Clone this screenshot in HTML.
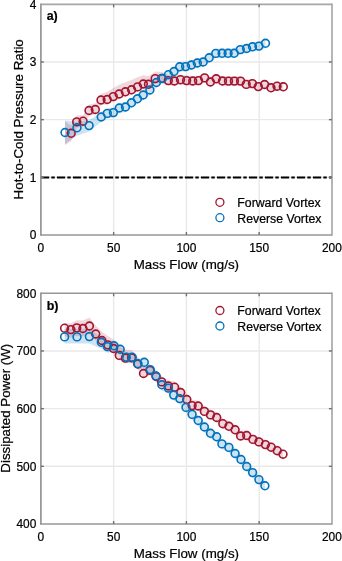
<!DOCTYPE html><html><head><meta charset="utf-8"><style>html,body{margin:0;padding:0;background:#fff;width:342px;height:561px;overflow:hidden}svg{display:block;will-change:transform}</style></head><body><svg width="342" height="561" viewBox="0 0 342 561">
<rect width="342" height="561" fill="#fff"/>
<line x1="113.65" y1="4.35" x2="113.65" y2="234.95" stroke="#e9e9e9" stroke-width="1.4"/>
<line x1="186.40" y1="4.35" x2="186.40" y2="234.95" stroke="#e9e9e9" stroke-width="1.4"/>
<line x1="259.15" y1="4.35" x2="259.15" y2="234.95" stroke="#e9e9e9" stroke-width="1.4"/>
<line x1="40.9" y1="177.30" x2="331.9" y2="177.30" stroke="#e9e9e9" stroke-width="1.4"/>
<line x1="40.9" y1="119.65" x2="331.9" y2="119.65" stroke="#e9e9e9" stroke-width="1.4"/>
<line x1="40.9" y1="62.00" x2="331.9" y2="62.00" stroke="#e9e9e9" stroke-width="1.4"/>
<polygon points="65.0,120.5 77.0,121.8 89.1,120.3 101.2,112.0 107.3,108.4 113.4,107.6 119.3,103.1 125.5,102.1 131.5,97.9 137.4,93.9 143.2,90.1 149.9,85.1 156.4,77.6 162.3,73.7 168.4,69.9 174.0,66.7 179.7,62.0 185.6,61.8 191.4,60.2 197.3,58.2 203.2,57.3 209.2,53.1 215.8,48.7 222.1,48.6 228.1,48.6 234.2,48.6 240.3,45.0 246.6,43.9 252.5,42.2 258.9,41.5 265.5,38.7 265.5,47.9 258.9,50.7 252.5,51.4 246.6,53.1 240.3,54.2 234.2,58.0 228.1,58.0 222.1,58.0 215.8,58.1 209.2,62.5 203.2,66.7 197.3,67.8 191.4,69.8 185.6,71.4 179.7,71.6 174.0,76.3 168.4,79.5 162.3,83.3 156.4,87.4 149.9,94.9 143.2,99.9 137.4,103.7 131.5,107.7 125.5,111.9 119.3,112.9 113.4,117.6 107.3,118.4 101.2,122.0 89.1,131.6 77.0,135.8 65.0,144.0" fill="#0072bd" fill-opacity="0.2"/>
<polygon points="65.0,121.3 71.2,125.7 76.7,115.5 83.1,115.2 89.0,104.5 95.3,103.5 101.0,93.8 107.2,92.1 113.3,87.9 119.1,84.8 125.4,82.3 131.6,80.0 137.6,77.3 143.3,75.2 148.5,76.3 155.2,71.6 161.8,72.1 168.3,74.9 174.4,75.9 180.5,74.7 186.6,75.6 192.7,76.1 198.5,75.7 204.6,73.0 210.4,77.1 216.2,74.0 222.5,76.2 228.5,76.3 234.4,76.3 240.6,76.4 246.2,79.7 252.4,78.9 258.3,81.9 264.6,79.9 271.0,83.2 277.0,81.6 283.3,82.2 283.3,91.3 277.0,90.8 271.0,92.4 264.6,89.1 258.3,91.2 252.4,88.2 246.2,89.0 240.6,85.7 234.4,85.8 228.5,85.8 222.5,85.7 216.2,83.5 210.4,86.7 204.6,82.6 198.5,85.4 192.7,85.8 186.6,85.4 180.5,84.5 174.4,85.8 168.3,85.4 161.8,83.2 155.2,83.5 148.5,89.2 143.3,88.9 137.6,91.8 131.6,94.7 125.4,96.7 119.1,99.0 113.3,101.6 107.2,104.5 101.0,105.0 95.3,114.5 89.0,115.5 83.1,126.2 76.7,127.7 71.2,140.9 65.0,145.3" fill="#a2142f" fill-opacity="0.17"/>
<line x1="40.9" y1="177.60" x2="331.9" y2="177.60" stroke="#000" stroke-width="2" stroke-dasharray="8.3 2.1 3.5 2.1"/>
<circle cx="71.2" cy="133.3" r="3.9" fill="none" stroke="#a2142f" stroke-width="1.6"/>
<circle cx="76.7" cy="121.9" r="3.9" fill="none" stroke="#a2142f" stroke-width="1.6"/>
<circle cx="83.1" cy="121.2" r="3.9" fill="none" stroke="#a2142f" stroke-width="1.6"/>
<circle cx="89.0" cy="110.5" r="3.9" fill="none" stroke="#a2142f" stroke-width="1.6"/>
<circle cx="95.3" cy="109.5" r="3.9" fill="none" stroke="#a2142f" stroke-width="1.6"/>
<circle cx="101.0" cy="100.0" r="3.9" fill="none" stroke="#a2142f" stroke-width="1.6"/>
<circle cx="107.2" cy="99.5" r="3.9" fill="none" stroke="#a2142f" stroke-width="1.6"/>
<circle cx="113.3" cy="96.6" r="3.9" fill="none" stroke="#a2142f" stroke-width="1.6"/>
<circle cx="119.1" cy="94.0" r="3.9" fill="none" stroke="#a2142f" stroke-width="1.6"/>
<circle cx="125.4" cy="91.8" r="3.9" fill="none" stroke="#a2142f" stroke-width="1.6"/>
<circle cx="131.6" cy="89.8" r="3.9" fill="none" stroke="#a2142f" stroke-width="1.6"/>
<circle cx="137.6" cy="86.9" r="3.9" fill="none" stroke="#a2142f" stroke-width="1.6"/>
<circle cx="143.3" cy="84.0" r="3.9" fill="none" stroke="#a2142f" stroke-width="1.6"/>
<circle cx="148.5" cy="84.3" r="3.9" fill="none" stroke="#a2142f" stroke-width="1.6"/>
<circle cx="155.2" cy="78.6" r="3.9" fill="none" stroke="#a2142f" stroke-width="1.6"/>
<circle cx="161.8" cy="78.4" r="3.9" fill="none" stroke="#a2142f" stroke-width="1.6"/>
<circle cx="168.3" cy="80.6" r="3.9" fill="none" stroke="#a2142f" stroke-width="1.6"/>
<circle cx="174.4" cy="81.0" r="3.9" fill="none" stroke="#a2142f" stroke-width="1.6"/>
<circle cx="180.5" cy="79.7" r="3.9" fill="none" stroke="#a2142f" stroke-width="1.6"/>
<circle cx="186.6" cy="80.6" r="3.9" fill="none" stroke="#a2142f" stroke-width="1.6"/>
<circle cx="192.7" cy="81.0" r="3.9" fill="none" stroke="#a2142f" stroke-width="1.6"/>
<circle cx="198.5" cy="80.6" r="3.9" fill="none" stroke="#a2142f" stroke-width="1.6"/>
<circle cx="204.6" cy="77.9" r="3.9" fill="none" stroke="#a2142f" stroke-width="1.6"/>
<circle cx="210.4" cy="82.0" r="3.9" fill="none" stroke="#a2142f" stroke-width="1.6"/>
<circle cx="216.2" cy="78.8" r="3.9" fill="none" stroke="#a2142f" stroke-width="1.6"/>
<circle cx="222.5" cy="81.0" r="3.9" fill="none" stroke="#a2142f" stroke-width="1.6"/>
<circle cx="228.5" cy="81.1" r="3.9" fill="none" stroke="#a2142f" stroke-width="1.6"/>
<circle cx="234.4" cy="81.1" r="3.9" fill="none" stroke="#a2142f" stroke-width="1.6"/>
<circle cx="240.6" cy="81.1" r="3.9" fill="none" stroke="#a2142f" stroke-width="1.6"/>
<circle cx="246.2" cy="84.4" r="3.9" fill="none" stroke="#a2142f" stroke-width="1.6"/>
<circle cx="252.4" cy="83.6" r="3.9" fill="none" stroke="#a2142f" stroke-width="1.6"/>
<circle cx="258.3" cy="86.6" r="3.9" fill="none" stroke="#a2142f" stroke-width="1.6"/>
<circle cx="264.6" cy="84.5" r="3.9" fill="none" stroke="#a2142f" stroke-width="1.6"/>
<circle cx="271.0" cy="87.8" r="3.9" fill="none" stroke="#a2142f" stroke-width="1.6"/>
<circle cx="277.0" cy="86.2" r="3.9" fill="none" stroke="#a2142f" stroke-width="1.6"/>
<circle cx="283.3" cy="86.8" r="3.9" fill="none" stroke="#a2142f" stroke-width="1.6"/>
<circle cx="65.0" cy="132.5" r="3.9" fill="none" stroke="#0072bd" stroke-width="1.6"/>
<circle cx="77.0" cy="127.8" r="3.9" fill="none" stroke="#0072bd" stroke-width="1.6"/>
<circle cx="89.1" cy="125.6" r="3.9" fill="none" stroke="#0072bd" stroke-width="1.6"/>
<circle cx="101.2" cy="117.0" r="3.9" fill="none" stroke="#0072bd" stroke-width="1.6"/>
<circle cx="107.3" cy="113.4" r="3.9" fill="none" stroke="#0072bd" stroke-width="1.6"/>
<circle cx="113.4" cy="112.6" r="3.9" fill="none" stroke="#0072bd" stroke-width="1.6"/>
<circle cx="119.3" cy="108.0" r="3.9" fill="none" stroke="#0072bd" stroke-width="1.6"/>
<circle cx="125.5" cy="107.0" r="3.9" fill="none" stroke="#0072bd" stroke-width="1.6"/>
<circle cx="131.5" cy="102.8" r="3.9" fill="none" stroke="#0072bd" stroke-width="1.6"/>
<circle cx="137.4" cy="98.8" r="3.9" fill="none" stroke="#0072bd" stroke-width="1.6"/>
<circle cx="143.2" cy="95.0" r="3.9" fill="none" stroke="#0072bd" stroke-width="1.6"/>
<circle cx="149.9" cy="90.0" r="3.9" fill="none" stroke="#0072bd" stroke-width="1.6"/>
<circle cx="156.4" cy="82.5" r="3.9" fill="none" stroke="#0072bd" stroke-width="1.6"/>
<circle cx="162.3" cy="78.5" r="3.9" fill="none" stroke="#0072bd" stroke-width="1.6"/>
<circle cx="168.4" cy="74.7" r="3.9" fill="none" stroke="#0072bd" stroke-width="1.6"/>
<circle cx="174.0" cy="71.5" r="3.9" fill="none" stroke="#0072bd" stroke-width="1.6"/>
<circle cx="179.7" cy="66.8" r="3.9" fill="none" stroke="#0072bd" stroke-width="1.6"/>
<circle cx="185.6" cy="66.6" r="3.9" fill="none" stroke="#0072bd" stroke-width="1.6"/>
<circle cx="191.4" cy="65.0" r="3.9" fill="none" stroke="#0072bd" stroke-width="1.6"/>
<circle cx="197.3" cy="63.0" r="3.9" fill="none" stroke="#0072bd" stroke-width="1.6"/>
<circle cx="203.2" cy="62.0" r="3.9" fill="none" stroke="#0072bd" stroke-width="1.6"/>
<circle cx="209.2" cy="57.8" r="3.9" fill="none" stroke="#0072bd" stroke-width="1.6"/>
<circle cx="215.8" cy="53.4" r="3.9" fill="none" stroke="#0072bd" stroke-width="1.6"/>
<circle cx="222.1" cy="53.3" r="3.9" fill="none" stroke="#0072bd" stroke-width="1.6"/>
<circle cx="228.1" cy="53.3" r="3.9" fill="none" stroke="#0072bd" stroke-width="1.6"/>
<circle cx="234.2" cy="53.3" r="3.9" fill="none" stroke="#0072bd" stroke-width="1.6"/>
<circle cx="240.3" cy="49.6" r="3.9" fill="none" stroke="#0072bd" stroke-width="1.6"/>
<circle cx="246.6" cy="48.5" r="3.9" fill="none" stroke="#0072bd" stroke-width="1.6"/>
<circle cx="252.5" cy="46.8" r="3.9" fill="none" stroke="#0072bd" stroke-width="1.6"/>
<circle cx="258.9" cy="46.1" r="3.9" fill="none" stroke="#0072bd" stroke-width="1.6"/>
<circle cx="265.5" cy="43.3" r="3.9" fill="none" stroke="#0072bd" stroke-width="1.6"/>
<line x1="40.9" y1="3.55" x2="40.9" y2="235.75" stroke="#8e8e8e" stroke-width="1.6"/>
<line x1="332.0" y1="3.55" x2="332.0" y2="235.75" stroke="#8e8e8e" stroke-width="1.3"/>
<line x1="40.9" y1="4.35" x2="331.9" y2="4.35" stroke="#a6a6a6" stroke-width="1.6"/>
<line x1="40.9" y1="234.95" x2="331.9" y2="234.95" stroke="#979797" stroke-width="1.6"/>
<line x1="113.65" y1="234.95" x2="113.65" y2="231.95" stroke="#707070" stroke-width="1.4"/>
<line x1="113.65" y1="4.35" x2="113.65" y2="7.35" stroke="#707070" stroke-width="1.4"/>
<line x1="186.40" y1="234.95" x2="186.40" y2="231.95" stroke="#707070" stroke-width="1.4"/>
<line x1="186.40" y1="4.35" x2="186.40" y2="7.35" stroke="#707070" stroke-width="1.4"/>
<line x1="259.15" y1="234.95" x2="259.15" y2="231.95" stroke="#707070" stroke-width="1.4"/>
<line x1="259.15" y1="4.35" x2="259.15" y2="7.35" stroke="#707070" stroke-width="1.4"/>
<line x1="40.9" y1="177.30" x2="43.9" y2="177.30" stroke="#707070" stroke-width="1.4"/>
<line x1="331.9" y1="177.30" x2="328.9" y2="177.30" stroke="#707070" stroke-width="1.4"/>
<line x1="40.9" y1="119.65" x2="43.9" y2="119.65" stroke="#707070" stroke-width="1.4"/>
<line x1="331.9" y1="119.65" x2="328.9" y2="119.65" stroke="#707070" stroke-width="1.4"/>
<line x1="40.9" y1="62.00" x2="43.9" y2="62.00" stroke="#707070" stroke-width="1.4"/>
<line x1="331.9" y1="62.00" x2="328.9" y2="62.00" stroke="#707070" stroke-width="1.4"/>
<line x1="113.65" y1="293.3" x2="113.65" y2="524.0" stroke="#e9e9e9" stroke-width="1.4"/>
<line x1="186.40" y1="293.3" x2="186.40" y2="524.0" stroke="#e9e9e9" stroke-width="1.4"/>
<line x1="259.15" y1="293.3" x2="259.15" y2="524.0" stroke="#e9e9e9" stroke-width="1.4"/>
<line x1="40.9" y1="466.32" x2="331.9" y2="466.32" stroke="#e9e9e9" stroke-width="1.4"/>
<line x1="40.9" y1="408.65" x2="331.9" y2="408.65" stroke="#e9e9e9" stroke-width="1.4"/>
<line x1="40.9" y1="350.98" x2="331.9" y2="350.98" stroke="#e9e9e9" stroke-width="1.4"/>
<polygon points="64.6,328.9 77.0,328.9 89.4,328.6 101.3,337.3 107.4,341.6 114.0,340.8 120.2,344.4 126.3,352.3 132.2,352.3 137.9,358.8 144.3,357.4 150.2,364.7 156.0,371.1 161.8,380.0 168.4,383.3 173.7,390.3 179.8,393.8 186.0,402.6 192.1,409.6 198.2,415.7 204.4,422.3 210.5,428.6 216.7,432.1 221.9,439.2 228.9,442.7 235.1,448.8 241.0,454.9 246.7,461.9 252.6,468.0 258.9,475.0 264.9,481.2 264.9,490.6 258.9,484.4 252.6,477.5 246.7,471.4 241.0,464.5 235.1,458.5 228.9,452.5 221.9,449.0 216.7,442.0 210.5,438.5 204.4,432.3 198.2,425.8 192.1,419.8 186.0,412.8 179.8,404.0 173.7,400.6 168.4,393.6 161.8,390.4 156.0,381.6 150.2,375.3 144.3,368.0 137.9,369.5 132.2,363.0 126.3,363.1 120.2,355.2 114.0,351.8 107.4,352.7 101.3,348.7 89.4,343.6 77.0,343.6 64.6,343.4" fill="#0072bd" fill-opacity="0.2"/>
<polygon points="64.6,323.2 70.9,323.3 76.7,320.3 82.9,320.5 89.4,317.5 95.7,325.4 101.9,331.8 107.9,336.1 113.5,339.6 119.3,346.4 125.4,349.6 131.6,350.0 137.7,356.8 143.5,366.9 150.0,364.4 156.1,370.6 161.6,376.0 168.3,380.2 174.6,381.4 180.7,386.8 186.8,393.9 192.1,400.0 198.2,400.5 204.4,405.9 210.5,409.5 216.7,412.2 222.8,418.4 228.9,421.1 235.1,424.7 240.6,430.9 246.7,430.5 252.9,434.4 258.9,437.0 265.4,439.8 271.2,442.4 277.2,446.0 283.0,449.5 283.0,458.7 277.2,455.3 271.2,451.8 265.4,449.2 258.9,446.5 252.9,444.0 246.7,440.1 240.6,440.6 235.1,434.5 228.9,431.0 222.8,428.4 216.7,422.2 210.5,419.6 204.4,416.1 198.2,410.8 192.1,410.4 186.8,404.3 180.7,397.3 174.6,392.0 168.3,390.8 161.6,386.7 156.1,381.4 150.0,375.3 143.5,378.4 137.7,368.9 131.6,362.7 125.4,363.0 119.3,360.4 113.5,353.5 107.9,349.9 101.9,345.5 95.7,340.3 89.4,334.0 82.9,336.5 76.7,335.9 70.9,337.6 64.6,336.2" fill="#a2142f" fill-opacity="0.17"/>
<circle cx="64.6" cy="328.2" r="3.9" fill="none" stroke="#a2142f" stroke-width="1.6"/>
<circle cx="70.9" cy="329.6" r="3.9" fill="none" stroke="#a2142f" stroke-width="1.6"/>
<circle cx="76.7" cy="327.9" r="3.9" fill="none" stroke="#a2142f" stroke-width="1.6"/>
<circle cx="82.9" cy="328.5" r="3.9" fill="none" stroke="#a2142f" stroke-width="1.6"/>
<circle cx="89.4" cy="326.0" r="3.9" fill="none" stroke="#a2142f" stroke-width="1.6"/>
<circle cx="95.7" cy="334.0" r="3.9" fill="none" stroke="#a2142f" stroke-width="1.6"/>
<circle cx="101.9" cy="340.5" r="3.9" fill="none" stroke="#a2142f" stroke-width="1.6"/>
<circle cx="107.9" cy="344.9" r="3.9" fill="none" stroke="#a2142f" stroke-width="1.6"/>
<circle cx="113.5" cy="348.5" r="3.9" fill="none" stroke="#a2142f" stroke-width="1.6"/>
<circle cx="119.3" cy="355.4" r="3.9" fill="none" stroke="#a2142f" stroke-width="1.6"/>
<circle cx="125.4" cy="358.1" r="3.9" fill="none" stroke="#a2142f" stroke-width="1.6"/>
<circle cx="131.6" cy="357.8" r="3.9" fill="none" stroke="#a2142f" stroke-width="1.6"/>
<circle cx="137.7" cy="364.0" r="3.9" fill="none" stroke="#a2142f" stroke-width="1.6"/>
<circle cx="143.5" cy="373.5" r="3.9" fill="none" stroke="#a2142f" stroke-width="1.6"/>
<circle cx="150.0" cy="370.4" r="3.9" fill="none" stroke="#a2142f" stroke-width="1.6"/>
<circle cx="156.1" cy="376.5" r="3.9" fill="none" stroke="#a2142f" stroke-width="1.6"/>
<circle cx="161.6" cy="381.9" r="3.9" fill="none" stroke="#a2142f" stroke-width="1.6"/>
<circle cx="168.3" cy="386.0" r="3.9" fill="none" stroke="#a2142f" stroke-width="1.6"/>
<circle cx="174.6" cy="387.2" r="3.9" fill="none" stroke="#a2142f" stroke-width="1.6"/>
<circle cx="180.7" cy="392.5" r="3.9" fill="none" stroke="#a2142f" stroke-width="1.6"/>
<circle cx="186.8" cy="399.5" r="3.9" fill="none" stroke="#a2142f" stroke-width="1.6"/>
<circle cx="192.1" cy="405.6" r="3.9" fill="none" stroke="#a2142f" stroke-width="1.6"/>
<circle cx="198.2" cy="406.0" r="3.9" fill="none" stroke="#a2142f" stroke-width="1.6"/>
<circle cx="204.4" cy="411.4" r="3.9" fill="none" stroke="#a2142f" stroke-width="1.6"/>
<circle cx="210.5" cy="414.9" r="3.9" fill="none" stroke="#a2142f" stroke-width="1.6"/>
<circle cx="216.7" cy="417.5" r="3.9" fill="none" stroke="#a2142f" stroke-width="1.6"/>
<circle cx="222.8" cy="423.7" r="3.9" fill="none" stroke="#a2142f" stroke-width="1.6"/>
<circle cx="228.9" cy="426.3" r="3.9" fill="none" stroke="#a2142f" stroke-width="1.6"/>
<circle cx="235.1" cy="429.8" r="3.9" fill="none" stroke="#a2142f" stroke-width="1.6"/>
<circle cx="240.6" cy="436.0" r="3.9" fill="none" stroke="#a2142f" stroke-width="1.6"/>
<circle cx="246.7" cy="435.5" r="3.9" fill="none" stroke="#a2142f" stroke-width="1.6"/>
<circle cx="252.9" cy="439.4" r="3.9" fill="none" stroke="#a2142f" stroke-width="1.6"/>
<circle cx="258.9" cy="441.9" r="3.9" fill="none" stroke="#a2142f" stroke-width="1.6"/>
<circle cx="265.4" cy="444.6" r="3.9" fill="none" stroke="#a2142f" stroke-width="1.6"/>
<circle cx="271.2" cy="447.2" r="3.9" fill="none" stroke="#a2142f" stroke-width="1.6"/>
<circle cx="277.2" cy="450.7" r="3.9" fill="none" stroke="#a2142f" stroke-width="1.6"/>
<circle cx="283.0" cy="454.2" r="3.9" fill="none" stroke="#a2142f" stroke-width="1.6"/>
<circle cx="64.6" cy="336.9" r="3.9" fill="none" stroke="#0072bd" stroke-width="1.6"/>
<circle cx="77.0" cy="336.9" r="3.9" fill="none" stroke="#0072bd" stroke-width="1.6"/>
<circle cx="89.4" cy="336.6" r="3.9" fill="none" stroke="#0072bd" stroke-width="1.6"/>
<circle cx="101.3" cy="342.3" r="3.9" fill="none" stroke="#0072bd" stroke-width="1.6"/>
<circle cx="107.4" cy="346.6" r="3.9" fill="none" stroke="#0072bd" stroke-width="1.6"/>
<circle cx="114.0" cy="345.8" r="3.9" fill="none" stroke="#0072bd" stroke-width="1.6"/>
<circle cx="120.2" cy="349.3" r="3.9" fill="none" stroke="#0072bd" stroke-width="1.6"/>
<circle cx="126.3" cy="357.2" r="3.9" fill="none" stroke="#0072bd" stroke-width="1.6"/>
<circle cx="132.2" cy="357.2" r="3.9" fill="none" stroke="#0072bd" stroke-width="1.6"/>
<circle cx="137.9" cy="363.7" r="3.9" fill="none" stroke="#0072bd" stroke-width="1.6"/>
<circle cx="144.3" cy="362.3" r="3.9" fill="none" stroke="#0072bd" stroke-width="1.6"/>
<circle cx="150.2" cy="369.6" r="3.9" fill="none" stroke="#0072bd" stroke-width="1.6"/>
<circle cx="156.0" cy="376.0" r="3.9" fill="none" stroke="#0072bd" stroke-width="1.6"/>
<circle cx="161.8" cy="384.8" r="3.9" fill="none" stroke="#0072bd" stroke-width="1.6"/>
<circle cx="168.4" cy="388.1" r="3.9" fill="none" stroke="#0072bd" stroke-width="1.6"/>
<circle cx="173.7" cy="395.1" r="3.9" fill="none" stroke="#0072bd" stroke-width="1.6"/>
<circle cx="179.8" cy="398.6" r="3.9" fill="none" stroke="#0072bd" stroke-width="1.6"/>
<circle cx="186.0" cy="407.4" r="3.9" fill="none" stroke="#0072bd" stroke-width="1.6"/>
<circle cx="192.1" cy="414.4" r="3.9" fill="none" stroke="#0072bd" stroke-width="1.6"/>
<circle cx="198.2" cy="420.5" r="3.9" fill="none" stroke="#0072bd" stroke-width="1.6"/>
<circle cx="204.4" cy="427.0" r="3.9" fill="none" stroke="#0072bd" stroke-width="1.6"/>
<circle cx="210.5" cy="433.3" r="3.9" fill="none" stroke="#0072bd" stroke-width="1.6"/>
<circle cx="216.7" cy="436.8" r="3.9" fill="none" stroke="#0072bd" stroke-width="1.6"/>
<circle cx="221.9" cy="443.9" r="3.9" fill="none" stroke="#0072bd" stroke-width="1.6"/>
<circle cx="228.9" cy="447.4" r="3.9" fill="none" stroke="#0072bd" stroke-width="1.6"/>
<circle cx="235.1" cy="453.5" r="3.9" fill="none" stroke="#0072bd" stroke-width="1.6"/>
<circle cx="241.0" cy="459.5" r="3.9" fill="none" stroke="#0072bd" stroke-width="1.6"/>
<circle cx="246.7" cy="466.5" r="3.9" fill="none" stroke="#0072bd" stroke-width="1.6"/>
<circle cx="252.6" cy="472.6" r="3.9" fill="none" stroke="#0072bd" stroke-width="1.6"/>
<circle cx="258.9" cy="479.6" r="3.9" fill="none" stroke="#0072bd" stroke-width="1.6"/>
<circle cx="264.9" cy="485.8" r="3.9" fill="none" stroke="#0072bd" stroke-width="1.6"/>
<line x1="40.9" y1="292.5" x2="40.9" y2="524.8" stroke="#8e8e8e" stroke-width="1.6"/>
<line x1="332.0" y1="292.5" x2="332.0" y2="524.8" stroke="#8e8e8e" stroke-width="1.3"/>
<line x1="40.9" y1="293.3" x2="331.9" y2="293.3" stroke="#979797" stroke-width="1.6"/>
<line x1="40.9" y1="524.0" x2="331.9" y2="524.0" stroke="#979797" stroke-width="1.6"/>
<line x1="113.65" y1="524.0" x2="113.65" y2="521.0" stroke="#707070" stroke-width="1.4"/>
<line x1="113.65" y1="293.3" x2="113.65" y2="296.3" stroke="#707070" stroke-width="1.4"/>
<line x1="186.40" y1="524.0" x2="186.40" y2="521.0" stroke="#707070" stroke-width="1.4"/>
<line x1="186.40" y1="293.3" x2="186.40" y2="296.3" stroke="#707070" stroke-width="1.4"/>
<line x1="259.15" y1="524.0" x2="259.15" y2="521.0" stroke="#707070" stroke-width="1.4"/>
<line x1="259.15" y1="293.3" x2="259.15" y2="296.3" stroke="#707070" stroke-width="1.4"/>
<line x1="40.9" y1="466.32" x2="43.9" y2="466.32" stroke="#707070" stroke-width="1.4"/>
<line x1="331.9" y1="466.32" x2="328.9" y2="466.32" stroke="#707070" stroke-width="1.4"/>
<line x1="40.9" y1="408.65" x2="43.9" y2="408.65" stroke="#707070" stroke-width="1.4"/>
<line x1="331.9" y1="408.65" x2="328.9" y2="408.65" stroke="#707070" stroke-width="1.4"/>
<line x1="40.9" y1="350.98" x2="43.9" y2="350.98" stroke="#707070" stroke-width="1.4"/>
<line x1="331.9" y1="350.98" x2="328.9" y2="350.98" stroke="#707070" stroke-width="1.4"/>
<text x="40.9" y="251.8" font-family="Liberation Sans, sans-serif" font-size="11.9" text-anchor="middle" font-weight="normal" fill="#000" stroke="#000" stroke-width="0.22" >0</text>
<text x="113.65" y="251.8" font-family="Liberation Sans, sans-serif" font-size="11.9" text-anchor="middle" font-weight="normal" fill="#000" stroke="#000" stroke-width="0.22" >50</text>
<text x="186.4" y="251.8" font-family="Liberation Sans, sans-serif" font-size="11.9" text-anchor="middle" font-weight="normal" fill="#000" stroke="#000" stroke-width="0.22" >100</text>
<text x="259.15" y="251.8" font-family="Liberation Sans, sans-serif" font-size="11.9" text-anchor="middle" font-weight="normal" fill="#000" stroke="#000" stroke-width="0.22" >150</text>
<text x="331.9" y="251.8" font-family="Liberation Sans, sans-serif" font-size="11.9" text-anchor="middle" font-weight="normal" fill="#000" stroke="#000" stroke-width="0.22" >200</text>
<text x="40.9" y="541.0" font-family="Liberation Sans, sans-serif" font-size="11.9" text-anchor="middle" font-weight="normal" fill="#000" stroke="#000" stroke-width="0.22" >0</text>
<text x="113.65" y="541.0" font-family="Liberation Sans, sans-serif" font-size="11.9" text-anchor="middle" font-weight="normal" fill="#000" stroke="#000" stroke-width="0.22" >50</text>
<text x="186.4" y="541.0" font-family="Liberation Sans, sans-serif" font-size="11.9" text-anchor="middle" font-weight="normal" fill="#000" stroke="#000" stroke-width="0.22" >100</text>
<text x="259.15" y="541.0" font-family="Liberation Sans, sans-serif" font-size="11.9" text-anchor="middle" font-weight="normal" fill="#000" stroke="#000" stroke-width="0.22" >150</text>
<text x="331.9" y="541.0" font-family="Liberation Sans, sans-serif" font-size="11.9" text-anchor="middle" font-weight="normal" fill="#000" stroke="#000" stroke-width="0.22" >200</text>
<text x="36.3" y="239.15" font-family="Liberation Sans, sans-serif" font-size="11.9" text-anchor="end" font-weight="normal" fill="#000" stroke="#000" stroke-width="0.22" >0</text>
<text x="36.3" y="181.5" font-family="Liberation Sans, sans-serif" font-size="11.9" text-anchor="end" font-weight="normal" fill="#000" stroke="#000" stroke-width="0.22" >1</text>
<text x="36.3" y="123.85" font-family="Liberation Sans, sans-serif" font-size="11.9" text-anchor="end" font-weight="normal" fill="#000" stroke="#000" stroke-width="0.22" >2</text>
<text x="36.3" y="66.2" font-family="Liberation Sans, sans-serif" font-size="11.9" text-anchor="end" font-weight="normal" fill="#000" stroke="#000" stroke-width="0.22" >3</text>
<text x="36.3" y="8.55" font-family="Liberation Sans, sans-serif" font-size="11.9" text-anchor="end" font-weight="normal" fill="#000" stroke="#000" stroke-width="0.22" >4</text>
<text x="36.3" y="528.2" font-family="Liberation Sans, sans-serif" font-size="11.9" text-anchor="end" font-weight="normal" fill="#000" stroke="#000" stroke-width="0.22" >400</text>
<text x="36.3" y="470.52" font-family="Liberation Sans, sans-serif" font-size="11.9" text-anchor="end" font-weight="normal" fill="#000" stroke="#000" stroke-width="0.22" >500</text>
<text x="36.3" y="412.85" font-family="Liberation Sans, sans-serif" font-size="11.9" text-anchor="end" font-weight="normal" fill="#000" stroke="#000" stroke-width="0.22" >600</text>
<text x="36.3" y="355.18" font-family="Liberation Sans, sans-serif" font-size="11.9" text-anchor="end" font-weight="normal" fill="#000" stroke="#000" stroke-width="0.22" >700</text>
<text x="36.3" y="297.5" font-family="Liberation Sans, sans-serif" font-size="11.9" text-anchor="end" font-weight="normal" fill="#000" stroke="#000" stroke-width="0.22" >800</text>
<text x="186.4" y="268.9" font-family="Liberation Sans, sans-serif" font-size="13.35" text-anchor="middle" font-weight="normal" fill="#000" stroke="#000" stroke-width="0.22" >Mass Flow (mg/s)</text>
<text x="186.4" y="558.1" font-family="Liberation Sans, sans-serif" font-size="13.35" text-anchor="middle" font-weight="normal" fill="#000" stroke="#000" stroke-width="0.22" >Mass Flow (mg/s)</text>
<text x="0" y="0" font-family="Liberation Sans, sans-serif" font-size="13.35" stroke="#000" stroke-width="0.22" text-anchor="middle" transform="translate(23.4,119.3) rotate(-90)">Hot-to-Cold Pressure Ratio</text>
<text x="0" y="0" font-family="Liberation Sans, sans-serif" font-size="13.35" stroke="#000" stroke-width="0.22" text-anchor="middle" transform="translate(9.6,408.2) rotate(-90)">Dissipated Power (W)</text>
<text x="46.7" y="20.4" font-family="Liberation Sans, sans-serif" font-size="12.4" text-anchor="start" font-weight="bold" fill="#000" stroke="#000" stroke-width="0.22" >a)</text>
<text x="46.7" y="309.5" font-family="Liberation Sans, sans-serif" font-size="12.4" text-anchor="start" font-weight="bold" fill="#000" stroke="#000" stroke-width="0.22" >b)</text>
<circle cx="219.9" cy="202.3" r="4" fill="none" stroke="#a2142f" stroke-width="1.3"/>
<circle cx="219.9" cy="217.7" r="4" fill="none" stroke="#0072bd" stroke-width="1.3"/>
<text x="237.3" y="207.20000000000002" font-family="Liberation Sans, sans-serif" font-size="12.3" text-anchor="start" font-weight="normal" fill="#000" stroke="#000" stroke-width="0.22" >Forward Vortex</text>
<text x="237.3" y="222.6" font-family="Liberation Sans, sans-serif" font-size="12.3" text-anchor="start" font-weight="normal" fill="#000" stroke="#000" stroke-width="0.22" >Reverse Vortex</text>
<circle cx="219.9" cy="310.5" r="4" fill="none" stroke="#a2142f" stroke-width="1.3"/>
<circle cx="219.9" cy="326.0" r="4" fill="none" stroke="#0072bd" stroke-width="1.3"/>
<text x="237.3" y="315.4" font-family="Liberation Sans, sans-serif" font-size="12.3" text-anchor="start" font-weight="normal" fill="#000" stroke="#000" stroke-width="0.22" >Forward Vortex</text>
<text x="237.3" y="330.9" font-family="Liberation Sans, sans-serif" font-size="12.3" text-anchor="start" font-weight="normal" fill="#000" stroke="#000" stroke-width="0.22" >Reverse Vortex</text>
</svg></body></html>
